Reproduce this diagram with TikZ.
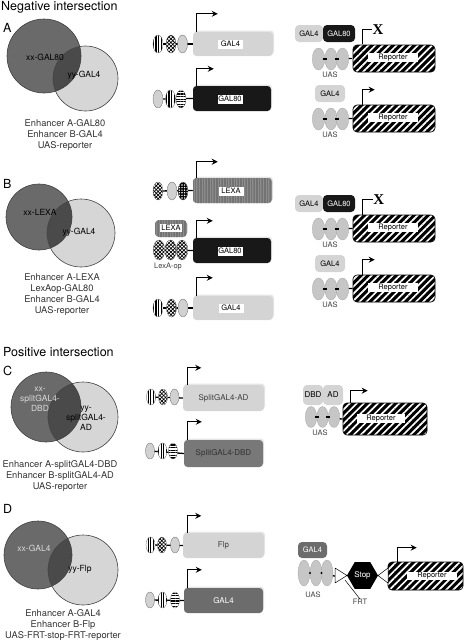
\documentclass[tikz,border=0pt]{standalone}
\usepackage{fontspec}
\setmainfont{TeX Gyre Heros}
\newfontfamily\xfont{Liberation Serif}
\usepackage{tikz}
\usetikzlibrary{arrows.meta,shapes.geometric,patterns.meta,shadows}
\definecolor{venndark}{HTML}{6A6A6A}
\definecolor{vennlight}{HTML}{D6D6D6}
\definecolor{vennmid}{HTML}{4A4A4A}
\definecolor{boxlight}{HTML}{D4D4D4}
\definecolor{boxmid}{HTML}{787878}
\definecolor{boxdark}{HTML}{6C6C6C}
\definecolor{boxblack}{HTML}{181818}
\definecolor{lexagray}{HTML}{8C8C8C}
\definecolor{uasgray}{HTML}{C6C6C6}
\tikzset{
  every picture/.style={line join=round, >=Stealth},
  title/.style={anchor=west, inner sep=0, font=\fontsize{12.5}{14}\selectfont},
  panel/.style={anchor=west, inner sep=0, font=\fontsize{12.5}{14}\selectfont},
  venn/.style={draw=black!75, line width=0.6pt},
  vlab/.style={inner sep=0, align=center, font=\fontsize{8.5}{10}\selectfont},
  caption/.style={inner sep=0, align=center, text=black!80, font=\fontsize{9.3}{11}\selectfont},
  smalltxt/.style={inner sep=0, text=black!75, font=\fontsize{7.5}{8}\selectfont},
  gene/.style={rounded corners=3.5pt, inner sep=0, minimum width=80pt, minimum height=24pt,
    font=\fontsize{8}{9}\selectfont, drop shadow={opacity=0.2, shadow xshift=1pt, shadow yshift=1.5pt}},
  lexa/.style={preaction={fill=lexagray}, pattern={Lines[angle=90,distance=1.6pt,line width=0.5pt]}, pattern color=black!55},
  lbl/.style={fill=white, inner sep=0, minimum width=25pt, minimum height=9pt, font=\fontsize{7.5}{8}\selectfont},
  prom/.style={-{Stealth[length=6pt,width=6pt]}, line width=1.1pt},
  dna/.style={line width=1.3pt},
  enh/.style={ellipse, inner sep=0, minimum width=10pt, minimum height=18pt, draw=black!60, line width=0.3pt},
  vbar/.style={enh, preaction={fill=white}, pattern={Lines[angle=90,distance=2.6pt,line width=1.3pt]}},
  chk/.style={enh, preaction={fill=white}, pattern={Hatch[angle=45,distance=2.6pt,line width=0.7pt]}},
  hbar/.style={enh, preaction={fill=white}, pattern={Lines[angle=0,distance=2.6pt,line width=1.3pt]}},
  pln/.style={enh, fill=black!18},
  dotel/.style={enh, preaction={fill=black}, pattern={Dots[radius=0.8pt,distance=2.6pt]}, pattern color=white},
  uas/.style={ellipse, inner sep=0, minimum width=12.5pt, minimum height=22pt, fill=uasgray, draw=black!35, line width=0.3pt},
  rep/.style={rounded corners=4pt, inner sep=0, minimum width=82pt, minimum height=27pt, draw=black, line width=0.6pt,
    preaction={fill=black}, pattern={Lines[angle=45,distance=5pt,line width=1.7pt]}, pattern color=white},
  prot/.style={rounded corners=4pt, inner sep=0, minimum height=17pt, font=\fontsize{7.5}{8}\selectfont},
  frt/.style={fill=white, draw=black, line width=0.5pt},
}

\begin{document}
\begin{tikzpicture}[x=1pt,y=-1pt]
\useasboundingbox (0,0) rectangle (474,640);

% headings and panel letters
\node[title] (neg) at (1,7) {Negative intersection};
\node[title] (pos) at (3,352) {Positive intersection};
\node[panel] (pA) at (3,27.5) {A};
\node[panel] (pB) at (3,183.5) {B};
\node[panel] (pC) at (3,370.5) {C};
\node[panel] (pD) at (3,508.5) {D};

% Venn diagrams
\foreach \ax/\ay/\ar/\bx/\by/\br in {44/56/37/85.5/78.5/32.5, 39/217/33/81/233/34, 46/407/35/83/417/35, 38/555/34/83/570/35}{
  \fill[venndark] (\ax,\ay) circle (\ar);
  \fill[vennlight] (\bx,\by) circle (\br);
  \begin{scope}
    \clip (\ax,\ay) circle (\ar);
    \fill[vennmid] (\bx,\by) circle (\br);
  \end{scope}
  \draw[venn] (\ax,\ay) circle (\ar) (\bx,\by) circle (\br);
}
\node[vlab] (xxA) at (45,57) {xx-GAL80};
\node[vlab] (yyA) at (84,75) {yy-GAL4};
\node[vlab] (xxB) at (40,212) {xx-LEXA};
\node[vlab] (yyB) at (79,232) {yy-GAL4};
\node[vlab, text=white!85!black] (xxC) at (40,399) {xx-\\splitGAL4-\\DBD};
\node[vlab] (yyC) at (86,418) {yy-\\splitGAL4-\\AD};
\node[vlab, text=white!85!black] (xxD) at (34,548) {xx-GAL4};
\node[vlab] (yyD) at (80,569) {yy-Flp};
\node[caption] (capA) at (65,135) {Enhancer A-GAL80\\Enhancer B-GAL4\\UAS-reporter};
\node[caption] (capB) at (62,295) {Enhancer A-LEXA\\LexAop-GAL80\\Enhancer B-GAL4\\UAS-reporter};
\node[caption] (capC) at (60,476) {Enhancer A-splitGAL4-DBD\\Enhancer B-splitGAL4-AD\\UAS-reporter};
\node[caption] (capD) at (63,625) {Enhancer A-GAL4\\Enhancer B-Flp\\UAS-FRT-stop-FRT-reporter};

% transgenes, panel A
\node[gene, fill=boxlight] (gA1) at (233,44) {};
\node[lbl] (lA1) at (230.5,44) {GAL4};
\draw[dna] (153,44) -- (gA1.west);
\foreach \s/\x [count=\i] in {vbar/158,chk/171,pln/182.5} \node[\s] (eA1\i) at (\x,44) {};
\draw[prom] ([xshift=4pt]gA1.north west) -- ++(0,-18) -- ++(21,0);
\node[gene, fill=boxblack, minimum width=78pt, minimum height=25pt] (gA2) at (232,98.5) {};
\node[lbl] (lA2) at (230,99) {GAL80};
\draw[dna] (158,99) -- (gA2.west);
\foreach \s/\x [count=\i] in {pln/158,vbar/170.5,hbar/181} \node[\s] (eA2\i) at (\x,99) {};
\draw[prom] ([xshift=4pt]gA2.north west) -- ++(0,-17) -- ++(17,0);

% transgenes, panel B
\node[gene, lexa, minimum width=79pt, minimum height=25pt] (gB1) at (232.5,190.5) {};
\node[lbl] (lB1) at (231,191) {LEXA};
\draw[dna] (158,191) -- (gB1.west);
\foreach \s/\x [count=\i] in {chk/158,pln/172,dotel/183} \node[\s] (eB1\i) at (\x,191) {};
\draw[prom] ([xshift=4pt]gB1.north west) -- ++(0,-16) -- ++(21,0);
\node[prot, lexa, minimum width=32pt] (pB2) at (171,228.5) {};
\node[lbl, minimum width=22pt, minimum height=8pt] (lpB2) at (171,228) {LEXA};
\node[gene, fill=boxblack, minimum width=78pt, minimum height=25pt] (gB2) at (232,250.5) {};
\node[lbl] (lB2) at (230,251) {GAL80};
\draw[dna] (159,250) -- (gB2.west);
\foreach \x [count=\i] in {159,170.5,182} \node[chk, minimum width=11.5pt, minimum height=20pt] (oB\i) at (\x,250) {};
\node[smalltxt] (opB) at (168,267) {LexA-op};
\draw[prom] ([xshift=4pt]gB2.north west) -- ++(0,-17) -- ++(16,0);
\node[gene, fill=boxlight] (gB3) at (233,308) {};
\node[lbl] (lB3) at (231,308) {GAL4};
\draw[dna] (158,308) -- (gB3.west);
\foreach \s/\x [count=\i] in {vbar/158,chk/171.5,pln/183} \node[\s] (eB3\i) at (\x,308) {};
\draw[prom] ([xshift=4pt]gB3.north west) -- ++(0,-18) -- ++(16,0);

% transgenes, panel C
\node[gene, fill=boxlight, minimum width=81pt, minimum height=26pt, text=black!75] (gC1) at (223.5,398) {SplitGAL4-AD};
\draw[dna] (151,397) -- (gC1.west);
\foreach \s/\x [count=\i] in {vbar/151,chk/163,pln/174.5} \node[\s, minimum width=9pt, minimum height=16pt] (eC1\i) at (\x,397) {};
\draw[prom] ([xshift=4.5pt]gC1.north west) -- ++(0,-17) -- ++(14,0);
\node[gene, fill=boxmid, minimum width=79pt, minimum height=27pt, text=black!80] (gC2) at (223.5,453.5) {SplitGAL4-DBD};
\draw[dna] (150,451) -- (gC2.west);
\foreach \s/\x [count=\i] in {pln/150,vbar/162.5,hbar/173} \node[\s, minimum width=9pt, minimum height=16pt] (eC2\i) at (\x,451) {};
\draw[prom] ([xshift=4pt]gC2.north west) -- ++(0,-18) -- ++(14,0);

% transgenes, panel D
\node[gene, fill=boxlight, minimum width=81pt, minimum height=25pt, text=black!75] (gD1) at (223.5,545.5) {Flp};
\draw[dna] (150.5,545) -- (gD1.west);
\foreach \s/\x [count=\i] in {vbar/150.5,chk/162,pln/175} \node[\s, minimum width=9pt, minimum height=16pt] (eD1\i) at (\x,545) {};
\draw[prom] ([xshift=4.5pt]gD1.north west) -- ++(0,-17) -- ++(14,0);
\node[gene, fill=boxdark, minimum width=79pt, minimum height=25pt, text=white] (gD2) at (223.5,600.5) {GAL4};
\draw[dna] (150,600) -- (gD2.west);
\foreach \s/\x [count=\i] in {pln/150,vbar/162.5,hbar/175} \node[\s, minimum width=9pt, minimum height=16pt] (eD2\i) at (\x,600) {};
\draw[prom] ([xshift=4pt]gD2.north west) -- ++(0,-18) -- ++(14,0);

% reporters, panels A and B
\foreach \dy in {0,60,170,230}{
  \node[rep] (rp\dy) at (394,58.5+\dy) {};
  \node[lbl, minimum width=50pt] (rl\dy) at (393,57.5+\dy) {Reporter};
  \draw[dna] (318.5,59+\dy) -- (rp\dy.west);
  \foreach \x [count=\i] in {318.5,331,342.5} \node[uas] (u\dy-\i) at (\x,59+\dy) {};
  \foreach \x in {324.7,336.7} \draw[dna] (\x-2,59+\dy) -- (\x+2,59+\dy);
  \node[smalltxt] (ul\dy) at (330,75+\dy) {UAS};
}
\foreach \dy in {0,170}{
  \node[prot, fill=boxlight, minimum width=28pt] (pg\dy) at (309,33.5+\dy) {GAL4};
  \node[prot, fill=boxblack, text=white, minimum width=32pt] (pe\dy) at (339,33.5+\dy) {GAL80};
  \draw[line width=1.1pt] ([xshift=10pt]rp\dy.north west) -- ++(0,-15) -- ++(10,0)
    node[right, inner sep=0, font=\xfont\bfseries\fontsize{15}{15}\selectfont] (xm\dy) {X};
}
\foreach \dy in {60,230}{
  \node[prot, fill=boxlight, minimum width=30pt] (pg\dy) at (330,33.5+\dy) {GAL4};
  \draw[prom] ([xshift=10pt]rp\dy.north west) -- ++(0,-15) -- ++(12,0);
}

% reporter, panel C
\node[prot, fill=boxlight, minimum width=20pt, minimum height=20pt, font=\fontsize{8}{9}\selectfont] (dbd) at (313,395) {DBD};
\node[prot, fill=boxlight, minimum width=20pt, minimum height=20pt, font=\fontsize{8}{9}\selectfont] (ad) at (333,395) {AD};
\node[rep, minimum width=84pt, minimum height=32pt] (rpC) at (385,419) {};
\node[lbl, minimum width=48pt] (rlC) at (381,418.5) {Reporter};
\draw[dna] (311,417) -- (rpC.west);
\foreach \x [count=\i] in {311,322.5,334} \node[uas, minimum width=11.5pt, minimum height=21pt] (uC\i) at (\x,417) {};
\foreach \x in {316.7,328.2} \draw[dna] (\x-2,417) -- (\x+2,417);
\node[smalltxt] (ulC) at (320,433) {UAS};
\draw[prom] ([xshift=8pt]rpC.north west) -- ++(0,-12) -- ++(17,0);

% reporter, panel D
\node[prot, fill=boxdark, text=white, minimum width=29pt, minimum height=16pt] (pgD) at (312.5,550) {GAL4};
\node[rep, minimum width=75pt, minimum height=28pt] (rpD) at (425.5,576) {};
\node[lbl, minimum width=50pt, minimum height=8pt] (rlD) at (432,576) {Reporter};
\node[regular polygon, regular polygon sides=6, minimum size=31pt, inner sep=0, fill=black, text=white,
  font=\fontsize{8}{9}\selectfont] (stop) at (362.5,575.5) {Stop};
\draw[dna] (304,573) -- (335,576);
\draw[dna] (387,576) -- (rpD.west);
\foreach \x [count=\i] in {304,316,327} \node[uas, minimum width=12pt, minimum height=26pt] (uD\i) at (\x,573) {};
\foreach \x in {310,321.5} \fill (\x,573) circle (1.1);
\draw[frt] (335,568) -- (347,575.5) -- (335,583) -- cycle;
\draw[frt] (388,568) -- (378,575.5) -- (388,583) -- cycle;
\node[smalltxt] (ulD) at (313,595) {UAS};
\node[smalltxt] (frtD) at (360,602) {FRT};
\draw[line width=0.5pt] (frtD.north) -- (345,580);
\draw[prom] ([xshift=10pt]rpD.north west) -- ++(0,-14) -- ++(19,0);
\end{tikzpicture}
\end{document}
